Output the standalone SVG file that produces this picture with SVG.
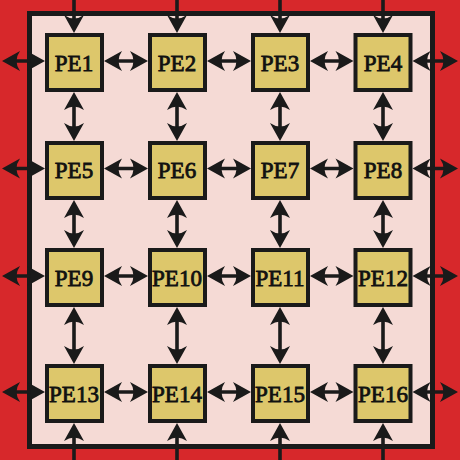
<svg xmlns="http://www.w3.org/2000/svg" width="460" height="460" viewBox="0 0 460 460">
<style>
.box{fill:#DDC76B;stroke:#1a1a1a;stroke-width:4}
.lbl{font-family:"Liberation Serif","Times New Roman",serif;font-size:23px;fill:#111;text-anchor:middle;stroke:#111;stroke-width:0.8}
.c{stroke:#1a1a1a;stroke-width:3.6;fill:none}
.d{marker-start:url(#ah);marker-end:url(#ah)}
.s{marker-end:url(#ah)}
</style>
<defs>
<marker id="ah" markerUnits="userSpaceOnUse" markerWidth="24" markerHeight="24" refX="13" refY="12" orient="auto-start-reverse" overflow="visible">
<path d="M18,12 L0,2 Q7,12 0,22 Z" fill="#1a1a1a"/>
</marker>
</defs>
<rect x="0" y="0" width="460" height="460" fill="#D7282B"/>
<rect x="29.5" y="13.5" width="403" height="433" fill="#F5DAD5" stroke="#1a1a1a" stroke-width="5"/>
<g id="connectors" class="c">
<line class="d" x1="109" y1="61" x2="143" y2="61"/>
<line class="d" x1="212" y1="61" x2="246" y2="61"/>
<line class="d" x1="315" y1="61" x2="348.5" y2="61"/>
<line class="d" x1="109" y1="168.5" x2="143" y2="168.5"/>
<line class="d" x1="212" y1="168.5" x2="246" y2="168.5"/>
<line class="d" x1="315" y1="168.5" x2="348.5" y2="168.5"/>
<line class="d" x1="109" y1="276" x2="143" y2="276"/>
<line class="d" x1="212" y1="276" x2="246" y2="276"/>
<line class="d" x1="315" y1="276" x2="348.5" y2="276"/>
<line class="d" x1="109" y1="392" x2="143" y2="392"/>
<line class="d" x1="212" y1="392" x2="246" y2="392"/>
<line class="d" x1="315" y1="392" x2="348.5" y2="392"/>
<line class="d" x1="7" y1="61" x2="40" y2="61"/>
<line class="d" x1="7" y1="168.5" x2="40" y2="168.5"/>
<line class="d" x1="7" y1="276" x2="40" y2="276"/>
<line class="d" x1="7" y1="392" x2="40" y2="392"/>
<line class="d" x1="417.5" y1="61" x2="453" y2="61"/>
<line class="d" x1="417.5" y1="168.5" x2="453" y2="168.5"/>
<line class="d" x1="417.5" y1="276" x2="453" y2="276"/>
<line class="d" x1="417.5" y1="392" x2="453" y2="392"/>
<line class="d" x1="74" y1="97" x2="74" y2="136"/>
<line class="d" x1="177" y1="97" x2="177" y2="136"/>
<line class="d" x1="280" y1="97" x2="280" y2="136"/>
<line class="d" x1="383" y1="97" x2="383" y2="136"/>
<line class="d" x1="74" y1="205" x2="74" y2="243"/>
<line class="d" x1="177" y1="205" x2="177" y2="243"/>
<line class="d" x1="280" y1="205" x2="280" y2="243"/>
<line class="d" x1="383" y1="205" x2="383" y2="243"/>
<line class="d" x1="74" y1="312" x2="74" y2="359"/>
<line class="d" x1="177" y1="312" x2="177" y2="359"/>
<line class="d" x1="280" y1="312" x2="280" y2="359"/>
<line class="d" x1="383" y1="312" x2="383" y2="359"/>
<line class="s" x1="74" y1="0" x2="74" y2="28"/>
<line class="s" x1="177" y1="0" x2="177" y2="28"/>
<line class="s" x1="280" y1="0" x2="280" y2="28"/>
<line class="s" x1="383" y1="0" x2="383" y2="28"/>
<line class="s" x1="74" y1="460" x2="74" y2="428"/>
<line class="s" x1="177" y1="460" x2="177" y2="428"/>
<line class="s" x1="280" y1="460" x2="280" y2="428"/>
<line class="s" x1="383" y1="460" x2="383" y2="428"/>
</g>
<g id="PE1"><rect class="box" x="47" y="35" width="55" height="55"/><text class="lbl" x="74" y="70.5">PE1</text></g>
<g id="PE2"><rect class="box" x="150" y="35" width="55" height="55"/><text class="lbl" x="177" y="70.5">PE2</text></g>
<g id="PE3"><rect class="box" x="253" y="35" width="55" height="55"/><text class="lbl" x="280" y="70.5">PE3</text></g>
<g id="PE4"><rect class="box" x="355.5" y="35" width="55" height="55"/><text class="lbl" x="383" y="70.5">PE4</text></g>
<g id="PE5"><rect class="box" x="47" y="143" width="55" height="55"/><text class="lbl" x="74" y="178">PE5</text></g>
<g id="PE6"><rect class="box" x="150" y="143" width="55" height="55"/><text class="lbl" x="177" y="178">PE6</text></g>
<g id="PE7"><rect class="box" x="253" y="143" width="55" height="55"/><text class="lbl" x="280" y="178">PE7</text></g>
<g id="PE8"><rect class="box" x="355.5" y="143" width="55" height="55"/><text class="lbl" x="383" y="178">PE8</text></g>
<g id="PE9"><rect class="box" x="47" y="250" width="55" height="55"/><text class="lbl" x="74" y="285.5">PE9</text></g>
<g id="PE10"><rect class="box" x="150" y="250" width="55" height="55"/><text class="lbl" x="177" y="285.5">PE10</text></g>
<g id="PE11"><rect class="box" x="253" y="250" width="55" height="55"/><text class="lbl" x="280" y="285.5">PE11</text></g>
<g id="PE12"><rect class="box" x="355.5" y="250" width="55" height="55"/><text class="lbl" x="383" y="285.5">PE12</text></g>
<g id="PE13"><rect class="box" x="47" y="366" width="55" height="55"/><text class="lbl" x="74" y="401.5">PE13</text></g>
<g id="PE14"><rect class="box" x="150" y="366" width="55" height="55"/><text class="lbl" x="177" y="401.5">PE14</text></g>
<g id="PE15"><rect class="box" x="253" y="366" width="55" height="55"/><text class="lbl" x="280" y="401.5">PE15</text></g>
<g id="PE16"><rect class="box" x="355.5" y="366" width="55" height="55"/><text class="lbl" x="383" y="401.5">PE16</text></g>
</svg>
